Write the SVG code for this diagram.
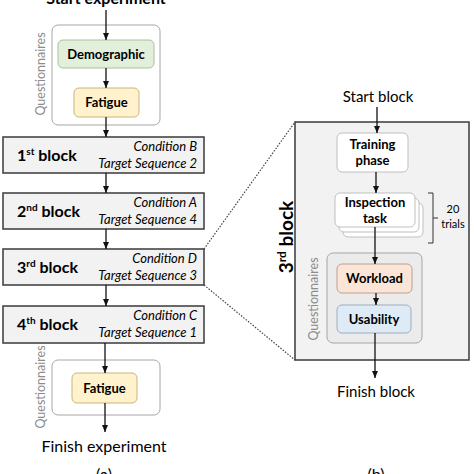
<svg xmlns="http://www.w3.org/2000/svg" width="474" height="474" viewBox="0 0 474 474">
<defs>
<marker id="ah" markerWidth="8" markerHeight="8" refX="7" refY="4" orient="auto" markerUnits="userSpaceOnUse">
<path d="M0,1 L7,4 L0,7 Z" fill="#111"/>
</marker>
</defs>
<style>
text{font-family:Lato,"Liberation Sans",sans-serif;fill:#000}
.b{font-weight:bold}
.i{font-style:italic;font-size:13px}
.blk{fill:#f2f2f2;stroke:#3a3a3a;stroke-width:1.5}
.q{fill:#ffffff;stroke:#a6a6a6;stroke-width:1}
.ql{fill:#8c8c8c;font-size:12.5px}
.ar{stroke:#111;stroke-width:1.3;fill:none;marker-end:url(#ah)}
.dot{stroke:#444;stroke-width:1.2;stroke-dasharray:1.5 1.5;fill:none}
.wb{fill:#ffffff;stroke:#bfbfbf;stroke-width:1}
</style>
<rect width="474" height="474" fill="#ffffff"/>

<g id="start-exp"><text x="106" y="4" text-anchor="middle" font-size="16" class="b">Start experiment</text></g>

<g id="questionnaires-1">
<rect class="q" x="52" y="25" width="108" height="100" rx="6"/>
<text class="ql" transform="translate(45,74) rotate(-90)" text-anchor="middle">Questionnaires</text>
</g>
<g id="demographic">
<rect x="58" y="40" width="96" height="28" rx="5" fill="#e2efda" stroke="#a9c29a"/>
<text x="106" y="59" text-anchor="middle" font-size="13" class="b">Demographic</text>
</g>
<g id="fatigue-1">
<rect x="74" y="88" width="65" height="29" rx="5" fill="#fff2cc" stroke="#c9b67e"/>
<text x="106.5" y="107" text-anchor="middle" font-size="13" class="b">Fatigue</text>
</g>

<g id="block1">
<rect class="blk" x="3" y="137" width="201" height="36"/>
<text x="17" y="161" font-size="16" class="b">1<tspan font-size="10" dy="-6">st</tspan><tspan dy="6"> block</tspan></text>
<text x="197" y="151" text-anchor="end" class="i">Condition B</text>
<text x="197" y="168" text-anchor="end" class="i">Target Sequence 2</text>
</g>
<g id="block2">
<rect class="blk" x="3" y="193" width="201" height="36"/>
<text x="17" y="217" font-size="16" class="b">2<tspan font-size="10" dy="-6">nd</tspan><tspan dy="6"> block</tspan></text>
<text x="197" y="207" text-anchor="end" class="i">Condition A</text>
<text x="197" y="224" text-anchor="end" class="i">Target Sequence 4</text>
</g>
<g id="block3">
<rect class="blk" x="3" y="249" width="201" height="36"/>
<text x="17" y="273" font-size="16" class="b">3<tspan font-size="10" dy="-6">rd</tspan><tspan dy="6"> block</tspan></text>
<text x="197" y="263" text-anchor="end" class="i">Condition D</text>
<text x="197" y="280" text-anchor="end" class="i">Target Sequence 3</text>
</g>
<g id="block4">
<rect class="blk" x="3" y="306" width="201" height="37"/>
<text x="17" y="330" font-size="16" class="b">4<tspan font-size="10" dy="-6">th</tspan><tspan dy="6"> block</tspan></text>
<text x="197" y="320" text-anchor="end" class="i">Condition C</text>
<text x="197" y="337" text-anchor="end" class="i">Target Sequence 1</text>
</g>

<g id="questionnaires-2">
<rect class="q" x="52" y="360" width="108" height="55" rx="6"/>
<text class="ql" transform="translate(45,387) rotate(-90)" text-anchor="middle">Questionnaires</text>
</g>
<g id="fatigue-2">
<rect x="72" y="373" width="65" height="30" rx="5" fill="#fff2cc" stroke="#c9b67e"/>
<text x="104.5" y="393" text-anchor="middle" font-size="13" class="b">Fatigue</text>
</g>
<g id="finish-exp"><text x="104" y="452" text-anchor="middle" font-size="16">Finish experiment</text></g>
<g id="label-a"><text x="104" y="480" text-anchor="middle" font-size="16">(a)</text></g>

<g id="block3-detail">
<rect x="295" y="122" width="174" height="238" fill="#f2f2f2" stroke="#3a3a3a" stroke-width="1.5"/>
<text class="b" font-size="19" transform="translate(293,237) rotate(-90)" text-anchor="middle">3<tspan font-size="12" dy="-7">rd</tspan><tspan dy="7"> block</tspan></text>
</g>
<g id="start-block"><text x="378" y="102" text-anchor="middle" font-size="15">Start block</text></g>
<g id="training">
<rect class="wb" x="337" y="133" width="71" height="39" rx="5"/>
<text x="372.5" y="149" text-anchor="middle" font-size="13" class="b">Training</text>
<text x="372.5" y="165" text-anchor="middle" font-size="13" class="b">phase</text>
</g>
<g id="inspection">
<rect class="wb" x="343" y="203" width="80" height="34" rx="5" stroke="#8c8c8c"/>
<rect class="wb" x="339" y="198" width="80" height="34" rx="5" stroke="#8c8c8c"/>
<rect class="wb" x="335" y="193" width="80" height="34" rx="5" stroke="#8c8c8c"/>
<text x="375" y="207" text-anchor="middle" font-size="13" class="b">Inspection</text>
<text x="375" y="223" text-anchor="middle" font-size="13" class="b">task</text>
</g>
<g id="trials">
<path d="M428,193 H433 V243 H428 M433,218 H438" fill="none" stroke="#333" stroke-width="1"/>
<text x="453" y="213" text-anchor="middle" font-size="11">20</text>
<text x="453" y="228" text-anchor="middle" font-size="11">trials</text>
</g>
<g id="questionnaires-3">
<rect x="327" y="253" width="95" height="90" rx="6" fill="#ebebeb" stroke="#a6a6a6"/>
<text class="ql" transform="translate(318,299) rotate(-90)" text-anchor="middle">Questionnaires</text>
</g>
<g id="workload">
<rect x="337" y="264" width="75" height="29" rx="5" fill="#fbe5d6" stroke="#bfa08f"/>
<text x="374.5" y="283" text-anchor="middle" font-size="13" class="b">Workload</text>
</g>
<g id="usability">
<rect x="337" y="305" width="74" height="28" rx="5" fill="#deebf7" stroke="#9caebd"/>
<text x="374" y="324" text-anchor="middle" font-size="13" class="b">Usability</text>
</g>
<g id="finish-block"><text x="376" y="397" text-anchor="middle" font-size="15">Finish block</text></g>
<g id="label-b"><text x="376" y="480" text-anchor="middle" font-size="16">(b)</text></g>

<g id="connectors">
<line class="ar" x1="106" y1="10" x2="106" y2="40"/>
<line class="ar" x1="106" y1="68" x2="106" y2="88"/>
<line class="ar" x1="106" y1="117" x2="106" y2="137"/>
<line class="ar" x1="106" y1="173" x2="106" y2="193"/>
<line class="ar" x1="106" y1="229" x2="106" y2="249"/>
<line class="ar" x1="106" y1="285" x2="106" y2="306"/>
<line class="ar" x1="105" y1="343" x2="105" y2="373"/>
<line class="ar" x1="105" y1="403" x2="105" y2="432"/>
<line class="ar" x1="377" y1="107" x2="377" y2="133"/>
<line class="ar" x1="376" y1="172" x2="376" y2="193"/>
<line class="ar" x1="375" y1="227" x2="375" y2="264"/>
<line class="ar" x1="376" y1="293" x2="376" y2="305"/>
<line class="ar" x1="375" y1="333" x2="375" y2="378"/>
<line class="dot" x1="204" y1="249" x2="295" y2="122"/>
<line class="dot" x1="204" y1="285" x2="295" y2="360"/>
</g>
</svg>
